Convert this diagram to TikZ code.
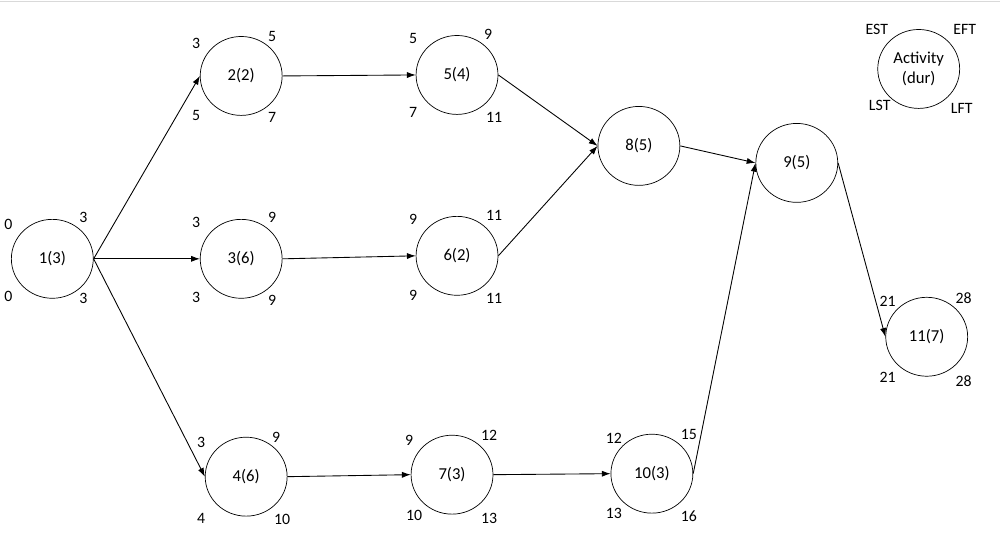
\documentclass[tikz,border=0pt]{standalone}
\usepackage{fontspec}
\setmainfont{Carlito}
\usetikzlibrary{shapes.geometric,arrows.meta}
\begin{document}
\begin{tikzpicture}[x=0.02cm,y=-0.02cm,
  act/.style={draw,ellipse,minimum width=82\pgflinewidth*0+1.64cm,minimum height=1.58cm,inner sep=0pt,font=\fontsize{9.5}{11}\selectfont,align=center},
  lbl/.style={font=\fontsize{9}{10}\selectfont,inner sep=0pt},
  arr/.style={-{Latex[length=5pt,width=3.5pt]},line width=0.5pt}]
\fill[white] (0,0) rectangle (1000,551);
\draw[black!15] (0,1) -- (1000,1);
\node[act] (n1) at (52,259) {1(3)};
\node[act] (n2) at (241,76) {2(2)};
\node[act] (n3) at (241,259) {3(6)};
\node[act] (n4) at (246,477) {4(6)};
\node[act] (n5) at (457,75) {5(4)};
\node[act] (n6) at (457,256) {6(2)};
\node[act] (n7) at (452,475) {7(3)};
\node[act] (n8) at (639,146) {8(5)};
\node[act] (n9) at (797,163) {9(5)};
\node[act] (n10) at (652,474) {10(3)};
\node[act] (n11) at (927,337) {11(7)};
\node[act] (lg) at (919,69) {Activity\\(dur)};
\draw[arr] (n1.east) -- (n2.west);
\draw[arr] (n1.east) -- (n3.west);
\draw[arr] (n1.east) -- (n4.west);
\draw[arr] (n2.east) -- (n5.west);
\draw[arr] (n3.east) -- (n6.west);
\draw[arr] (n4.east) -- (n7.west);
\draw[arr] (n5.east) -- (n8.west);
\draw[arr] (n6.east) -- (n8.west);
\draw[arr] (n7.east) -- (n10.west);
\draw[arr] (n8.east) -- (n9.west);
\draw[arr] (n10.east) -- (n9.west);
\draw[arr] (n9.east) -- (n11.west);
\foreach \t/\x/\y [count=\i] in {0/8/225,3/83/218,0/8/297,3/83/299,
 3/196/43,5/272/37,5/196/116,7/272/118,
 3/196/223,9/272/218,3/196/298,9/272/301,
 3/201/443,9/276/438,4/201/519,10/282/520,
 5/413/39,9/488/34,7/413/113,11/494/117,
 9/413/220,11/494/216,9/413/296,11/494/299,
 9/409/441,12/489/436,10/414/516,13/489/519,
 12/614/439,15/689/435,13/614/514,16/689/517,
 21/888/302,28/964/298,21/888/378,28/964/381,
 EST/877/29,EFT/965/29,LST/880/105,LFT/962/109}
 \node[lbl] (l\i) at (\x,\y) {\t};
\end{tikzpicture}
\end{document}
